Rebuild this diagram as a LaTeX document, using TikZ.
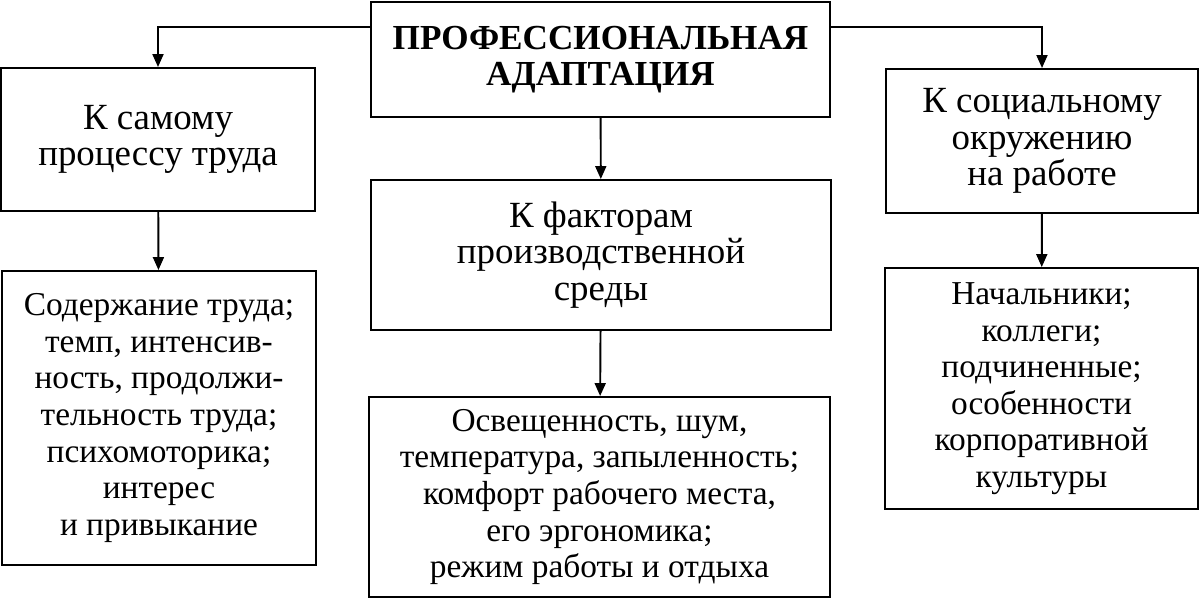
\documentclass[tikz,border=0pt]{standalone}
\usepackage{fontspec}
\setmainfont{Liberation Serif}
\usetikzlibrary{arrows.meta}

\tikzset{
    block/.style={draw, line width=1.1pt, align=center, inner sep=2pt,
        font=\fontsize{19}{20.8}\selectfont},
    head/.style={block, font=\fontsize{21}{20.8}\selectfont},
    link/.style={line width=1.1pt, -{Triangle[length=0.26cm,width=0.22cm]}}
}

\begin{document}
\begin{tikzpicture}
    \useasboundingbox (0,0) rectangle (24,-11.96);

    % Nodes
    \node[block, minimum width=9.18cm, minimum height=2.3cm, font=\fontsize{20}{20.8}\selectfont\bfseries]
        (adapt) at (12.01,-1.19) {ПРОФЕССИОНАЛЬНАЯ\\АДАПТАЦИЯ};
    \node[head, minimum width=6.28cm, minimum height=2.86cm]
        (labour) at (3.16,-2.79) {К самому\\процессу труда};
    \node[block, minimum width=6.28cm, minimum height=5.88cm]
        (labourlist) at (3.18,-8.36) {Содержание труда;\\темп, интенсив-\\ность, продолжи-\\тельность труда;\\психомоторика;\\интерес\\и привыкание};
    \node[head, minimum width=9.2cm, minimum height=3.0cm]
        (factors) at (12.02,-5.1) {К факторам\\производственной\\среды};
    \node[block, minimum width=9.22cm, minimum height=4.0cm]
        (factorlist) at (11.99,-9.94) {Освещенность, шум,\\температура, запыленность;\\комфорт рабочего места,\\его эргономика;\\режим работы и отдыха};
    \node[head, minimum width=6.24cm, minimum height=2.88cm]
        (social) at (20.84,-2.82) {К социальному\\окружению\\на работе};
    \node[block, minimum width=6.26cm, minimum height=4.82cm]
        (sociallist) at (20.83,-7.77) {Начальники;\\коллеги;\\подчиненные;\\особенности\\корпоративной\\культуры};

    % Edges
    \draw[link] ([yshift=0.65cm]adapt.west) -| (labour.north);
    \draw[link] ([yshift=0.65cm]adapt.east) -| (social.north);
    \draw[link] (adapt) -- (factors);
    \draw[link] (labour) -- (labourlist);
    \draw[link] (factors) -- (factorlist);
    \draw[link] (social) -- (sociallist);
\end{tikzpicture}
\end{document}
